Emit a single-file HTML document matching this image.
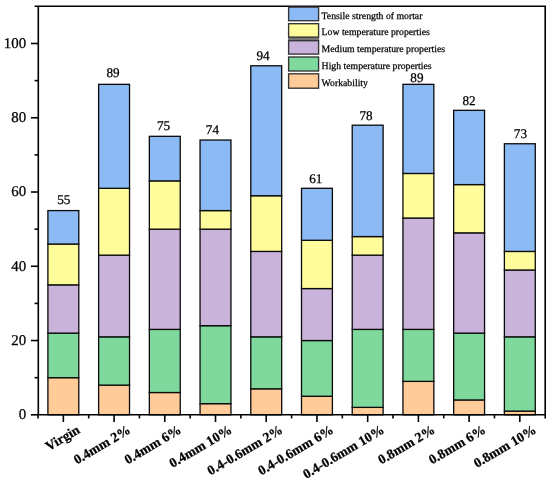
<!DOCTYPE html>
<html><head><meta charset="utf-8"><title>chart</title>
<style>html,body{margin:0;padding:0;background:#fff}svg{display:block}text{text-rendering:geometricPrecision;font-family:"Liberation Serif","Times New Roman",serif;fill:#000;stroke:#000;stroke-width:0.25px}</style></head>
<body>
<svg width="550" height="481" viewBox="0 0 550 481">
<rect width="550" height="481" fill="#fff"/>
<rect x="47.90" y="377.67" width="30.9" height="37.13" fill="#FFCC99" stroke="#0a0a0a" stroke-width="1.3"/>
<rect x="47.90" y="333.11" width="30.9" height="44.56" fill="#7FD99C" stroke="#0a0a0a" stroke-width="1.3"/>
<rect x="47.90" y="284.85" width="30.9" height="48.27" fill="#C9B3DB" stroke="#0a0a0a" stroke-width="1.3"/>
<rect x="47.90" y="244.00" width="30.9" height="40.84" fill="#FFFC9B" stroke="#0a0a0a" stroke-width="1.3"/>
<rect x="47.90" y="210.59" width="30.9" height="33.42" fill="#8CBAF5" stroke="#0a0a0a" stroke-width="1.3"/>
<text x="63.85" y="204.09" font-size="13.2" text-anchor="middle">55</text>
<rect x="98.62" y="385.10" width="30.9" height="29.70" fill="#FFCC99" stroke="#0a0a0a" stroke-width="1.3"/>
<rect x="98.62" y="336.83" width="30.9" height="48.27" fill="#7FD99C" stroke="#0a0a0a" stroke-width="1.3"/>
<rect x="98.62" y="255.14" width="30.9" height="81.69" fill="#C9B3DB" stroke="#0a0a0a" stroke-width="1.3"/>
<rect x="98.62" y="188.31" width="30.9" height="66.83" fill="#FFFC9B" stroke="#0a0a0a" stroke-width="1.3"/>
<rect x="98.62" y="84.34" width="30.9" height="103.96" fill="#8CBAF5" stroke="#0a0a0a" stroke-width="1.3"/>
<text x="113.07" y="77.24" font-size="13.2" text-anchor="middle">89</text>
<rect x="149.34" y="392.52" width="30.9" height="22.28" fill="#FFCC99" stroke="#0a0a0a" stroke-width="1.3"/>
<rect x="149.34" y="329.40" width="30.9" height="63.12" fill="#7FD99C" stroke="#0a0a0a" stroke-width="1.3"/>
<rect x="149.34" y="229.15" width="30.9" height="100.25" fill="#C9B3DB" stroke="#0a0a0a" stroke-width="1.3"/>
<rect x="149.34" y="180.88" width="30.9" height="48.27" fill="#FFFC9B" stroke="#0a0a0a" stroke-width="1.3"/>
<rect x="149.34" y="136.32" width="30.9" height="44.56" fill="#8CBAF5" stroke="#0a0a0a" stroke-width="1.3"/>
<text x="163.49" y="129.92" font-size="13.2" text-anchor="middle">75</text>
<rect x="200.06" y="403.66" width="30.9" height="11.14" fill="#FFCC99" stroke="#0a0a0a" stroke-width="1.3"/>
<rect x="200.06" y="325.69" width="30.9" height="77.97" fill="#7FD99C" stroke="#0a0a0a" stroke-width="1.3"/>
<rect x="200.06" y="229.15" width="30.9" height="96.54" fill="#C9B3DB" stroke="#0a0a0a" stroke-width="1.3"/>
<rect x="200.06" y="210.59" width="30.9" height="18.56" fill="#FFFC9B" stroke="#0a0a0a" stroke-width="1.3"/>
<rect x="200.06" y="140.04" width="30.9" height="70.55" fill="#8CBAF5" stroke="#0a0a0a" stroke-width="1.3"/>
<text x="212.41" y="134.04" font-size="13.2" text-anchor="middle">74</text>
<rect x="250.78" y="388.81" width="30.9" height="25.99" fill="#FFCC99" stroke="#0a0a0a" stroke-width="1.3"/>
<rect x="250.78" y="336.83" width="30.9" height="51.98" fill="#7FD99C" stroke="#0a0a0a" stroke-width="1.3"/>
<rect x="250.78" y="251.43" width="30.9" height="85.40" fill="#C9B3DB" stroke="#0a0a0a" stroke-width="1.3"/>
<rect x="250.78" y="195.73" width="30.9" height="55.69" fill="#FFFC9B" stroke="#0a0a0a" stroke-width="1.3"/>
<rect x="250.78" y="65.78" width="30.9" height="129.95" fill="#8CBAF5" stroke="#0a0a0a" stroke-width="1.3"/>
<text x="263.03" y="59.78" font-size="13.2" text-anchor="middle">94</text>
<rect x="301.50" y="396.24" width="30.9" height="18.56" fill="#FFCC99" stroke="#0a0a0a" stroke-width="1.3"/>
<rect x="301.50" y="340.54" width="30.9" height="55.69" fill="#7FD99C" stroke="#0a0a0a" stroke-width="1.3"/>
<rect x="301.50" y="288.56" width="30.9" height="51.98" fill="#C9B3DB" stroke="#0a0a0a" stroke-width="1.3"/>
<rect x="301.50" y="240.29" width="30.9" height="48.27" fill="#FFFC9B" stroke="#0a0a0a" stroke-width="1.3"/>
<rect x="301.50" y="188.31" width="30.9" height="51.98" fill="#8CBAF5" stroke="#0a0a0a" stroke-width="1.3"/>
<text x="315.75" y="182.61" font-size="13.2" text-anchor="middle">61</text>
<rect x="352.22" y="407.37" width="30.9" height="7.43" fill="#FFCC99" stroke="#0a0a0a" stroke-width="1.3"/>
<rect x="352.22" y="329.40" width="30.9" height="77.97" fill="#7FD99C" stroke="#0a0a0a" stroke-width="1.3"/>
<rect x="352.22" y="255.14" width="30.9" height="74.26" fill="#C9B3DB" stroke="#0a0a0a" stroke-width="1.3"/>
<rect x="352.22" y="236.58" width="30.9" height="18.56" fill="#FFFC9B" stroke="#0a0a0a" stroke-width="1.3"/>
<rect x="352.22" y="125.19" width="30.9" height="111.39" fill="#8CBAF5" stroke="#0a0a0a" stroke-width="1.3"/>
<text x="366.07" y="120.49" font-size="13.2" text-anchor="middle">78</text>
<rect x="402.94" y="381.38" width="30.9" height="33.42" fill="#FFCC99" stroke="#0a0a0a" stroke-width="1.3"/>
<rect x="402.94" y="329.40" width="30.9" height="51.98" fill="#7FD99C" stroke="#0a0a0a" stroke-width="1.3"/>
<rect x="402.94" y="218.01" width="30.9" height="111.39" fill="#C9B3DB" stroke="#0a0a0a" stroke-width="1.3"/>
<rect x="402.94" y="173.46" width="30.9" height="44.56" fill="#FFFC9B" stroke="#0a0a0a" stroke-width="1.3"/>
<rect x="402.94" y="84.34" width="30.9" height="89.11" fill="#8CBAF5" stroke="#0a0a0a" stroke-width="1.3"/>
<text x="416.89" y="81.74" font-size="13.2" text-anchor="middle">89</text>
<rect x="453.66" y="399.95" width="30.9" height="14.85" fill="#FFCC99" stroke="#0a0a0a" stroke-width="1.3"/>
<rect x="453.66" y="333.11" width="30.9" height="66.83" fill="#7FD99C" stroke="#0a0a0a" stroke-width="1.3"/>
<rect x="453.66" y="232.86" width="30.9" height="100.25" fill="#C9B3DB" stroke="#0a0a0a" stroke-width="1.3"/>
<rect x="453.66" y="184.59" width="30.9" height="48.27" fill="#FFFC9B" stroke="#0a0a0a" stroke-width="1.3"/>
<rect x="453.66" y="110.33" width="30.9" height="74.26" fill="#8CBAF5" stroke="#0a0a0a" stroke-width="1.3"/>
<text x="469.11" y="104.93" font-size="13.2" text-anchor="middle">82</text>
<rect x="504.38" y="411.09" width="30.9" height="3.71" fill="#FFCC99" stroke="#0a0a0a" stroke-width="1.3"/>
<rect x="504.38" y="336.83" width="30.9" height="74.26" fill="#7FD99C" stroke="#0a0a0a" stroke-width="1.3"/>
<rect x="504.38" y="269.99" width="30.9" height="66.83" fill="#C9B3DB" stroke="#0a0a0a" stroke-width="1.3"/>
<rect x="504.38" y="251.43" width="30.9" height="18.56" fill="#FFFC9B" stroke="#0a0a0a" stroke-width="1.3"/>
<rect x="504.38" y="143.75" width="30.9" height="107.68" fill="#8CBAF5" stroke="#0a0a0a" stroke-width="1.3"/>
<text x="520.43" y="138.05" font-size="13.2" text-anchor="middle">73</text>
<path d="M38.3 6.25V414.8H545.2V6.25" fill="none" stroke="#000" stroke-width="1.6"/>
<path d="M34.599999999999994 6.25H545.95" fill="none" stroke="#000" stroke-width="1.6"/>
<path d="M30.90 414.80H38.3" stroke="#000" stroke-width="1.6"/>
<text x="26.10" y="419.20" font-size="14.9" text-anchor="end">0</text>
<path d="M34.60 377.67H38.3" stroke="#000" stroke-width="1.6"/>
<path d="M30.90 340.54H38.3" stroke="#000" stroke-width="1.6"/>
<text x="26.10" y="344.94" font-size="14.9" text-anchor="end">20</text>
<path d="M34.60 303.41H38.3" stroke="#000" stroke-width="1.6"/>
<path d="M30.90 266.28H38.3" stroke="#000" stroke-width="1.6"/>
<text x="26.10" y="270.68" font-size="14.9" text-anchor="end">40</text>
<path d="M34.60 229.15H38.3" stroke="#000" stroke-width="1.6"/>
<path d="M30.90 192.02H38.3" stroke="#000" stroke-width="1.6"/>
<text x="26.10" y="196.42" font-size="14.9" text-anchor="end">60</text>
<path d="M34.60 154.89H38.3" stroke="#000" stroke-width="1.6"/>
<path d="M30.90 117.76H38.3" stroke="#000" stroke-width="1.6"/>
<text x="26.10" y="122.16" font-size="14.9" text-anchor="end">80</text>
<path d="M34.60 80.63H38.3" stroke="#000" stroke-width="1.6"/>
<path d="M30.90 43.50H38.3" stroke="#000" stroke-width="1.6"/>
<text x="26.10" y="47.90" font-size="14.9" text-anchor="end">100</text>
<path d="M63.35 414.8v7.2" stroke="#000" stroke-width="1.6"/>
<path d="M37.99 414.8v3.6" stroke="#000" stroke-width="1.6"/>
<text transform="translate(80.85,432.30) rotate(-30.6)" font-size="13.6" font-weight="bold" stroke-width="0.12" text-anchor="end">Virgin</text>
<path d="M114.07 414.8v7.2" stroke="#000" stroke-width="1.6"/>
<path d="M88.71 414.8v3.6" stroke="#000" stroke-width="1.6"/>
<text transform="translate(131.57,432.30) rotate(-30.6)" font-size="13.6" font-weight="bold" stroke-width="0.12" text-anchor="end">0.4mm 2%</text>
<path d="M164.79 414.8v7.2" stroke="#000" stroke-width="1.6"/>
<path d="M139.43 414.8v3.6" stroke="#000" stroke-width="1.6"/>
<text transform="translate(182.29,432.30) rotate(-30.6)" font-size="13.6" font-weight="bold" stroke-width="0.12" text-anchor="end">0.4mm 6%</text>
<path d="M215.51 414.8v7.2" stroke="#000" stroke-width="1.6"/>
<path d="M190.15 414.8v3.6" stroke="#000" stroke-width="1.6"/>
<text transform="translate(233.01,432.30) rotate(-30.6)" font-size="13.6" font-weight="bold" stroke-width="0.12" text-anchor="end">0.4mm 10%</text>
<path d="M266.23 414.8v7.2" stroke="#000" stroke-width="1.6"/>
<path d="M240.87 414.8v3.6" stroke="#000" stroke-width="1.6"/>
<text transform="translate(283.73,432.30) rotate(-30.6)" font-size="13.6" font-weight="bold" stroke-width="0.12" text-anchor="end">0.4-0.6mm 2%</text>
<path d="M316.95 414.8v7.2" stroke="#000" stroke-width="1.6"/>
<path d="M291.59 414.8v3.6" stroke="#000" stroke-width="1.6"/>
<text transform="translate(334.45,432.30) rotate(-30.6)" font-size="13.6" font-weight="bold" stroke-width="0.12" text-anchor="end">0.4-0.6mm 6%</text>
<path d="M367.67 414.8v7.2" stroke="#000" stroke-width="1.6"/>
<path d="M342.31 414.8v3.6" stroke="#000" stroke-width="1.6"/>
<text transform="translate(385.17,432.30) rotate(-30.6)" font-size="13.6" font-weight="bold" stroke-width="0.12" text-anchor="end">0.4-0.6mm 10%</text>
<path d="M418.39 414.8v7.2" stroke="#000" stroke-width="1.6"/>
<path d="M393.03 414.8v3.6" stroke="#000" stroke-width="1.6"/>
<text transform="translate(435.89,432.30) rotate(-30.6)" font-size="13.6" font-weight="bold" stroke-width="0.12" text-anchor="end">0.8mm 2%</text>
<path d="M469.11 414.8v7.2" stroke="#000" stroke-width="1.6"/>
<path d="M443.75 414.8v3.6" stroke="#000" stroke-width="1.6"/>
<text transform="translate(486.61,432.30) rotate(-30.6)" font-size="13.6" font-weight="bold" stroke-width="0.12" text-anchor="end">0.8mm 6%</text>
<path d="M519.83 414.8v7.2" stroke="#000" stroke-width="1.6"/>
<path d="M494.47 414.8v3.6" stroke="#000" stroke-width="1.6"/>
<text transform="translate(537.33,432.30) rotate(-30.6)" font-size="13.6" font-weight="bold" stroke-width="0.12" text-anchor="end">0.8mm 10%</text>
<path d="M545.20 414.8v3.6" stroke="#000" stroke-width="1.6"/>
<rect x="288" y="37" width="31.2" height="3.6" fill="#777"/>
<rect x="288.6" y="7.10" width="30" height="13.60" fill="#8CBAF5" stroke="#333" stroke-width="1.35"/>
<text x="321.6" y="18.50" font-size="9.75">Tensile strength of mortar</text>
<rect x="288.6" y="23.70" width="30" height="13.40" fill="#FFFC9B" stroke="#333" stroke-width="1.35"/>
<text x="321.6" y="35.00" font-size="9.75">Low temperature properties</text>
<rect x="288.6" y="40.70" width="30" height="13.40" fill="#C9B3DB" stroke="#333" stroke-width="1.35"/>
<text x="321.6" y="52.00" font-size="9.75">Medium temperature properties</text>
<rect x="288.6" y="57.00" width="30" height="14.00" fill="#7FD99C" stroke="#333" stroke-width="1.35"/>
<text x="321.6" y="68.60" font-size="9.75">High temperature properties</text>
<rect x="288.6" y="73.80" width="30" height="14.40" fill="#FFCC99" stroke="#333" stroke-width="1.35"/>
<text x="321.6" y="85.60" font-size="9.75">Workability</text>
</svg>
</body></html>
